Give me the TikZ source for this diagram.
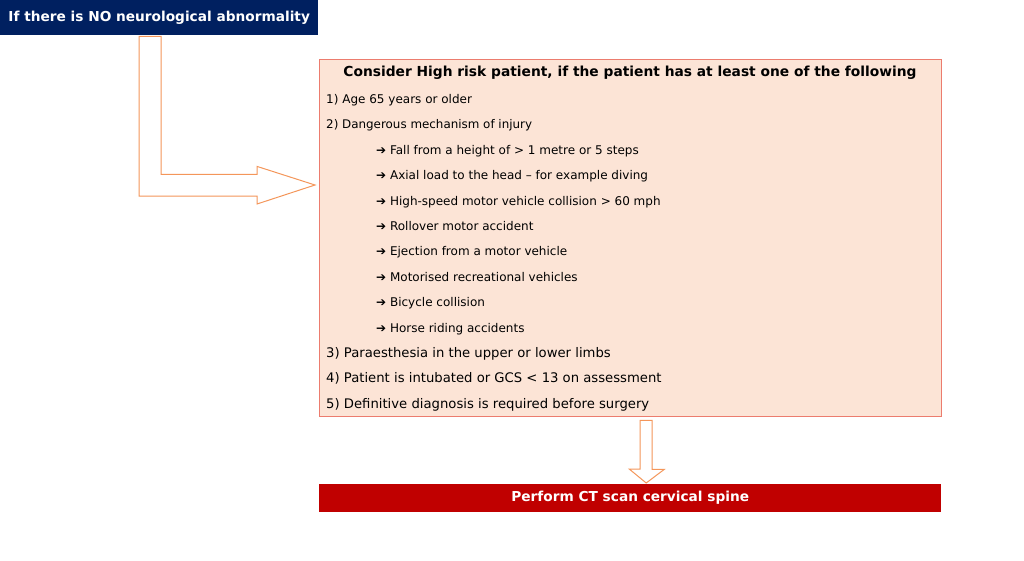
\documentclass[tikz,border=0pt]{standalone}
\usepackage{fontspec}
\setmainfont{DejaVu Sans}
\usetikzlibrary{positioning,calc}
\definecolor{condnavy}{RGB}{0,32,96}
\definecolor{scanred}{RGB}{192,0,0}
\definecolor{riskfill}{RGB}{252,228,214}
\definecolor{riskline}{RGB}{236,124,110}
\definecolor{arroworange}{RGB}{244,150,90}

\begin{document}
\begin{tikzpicture}[
  x=1pt, y=-1pt,
  banner/.style={anchor=north west, inner sep=0pt, text=white,
    font=\fontsize{13.7}{16}\selectfont\bfseries},
  riskbox/.style={draw=riskline, fill=riskfill, anchor=north west,
    minimum width=622pt, minimum height=357pt, inner sep=0pt},
  listitem/.style={anchor=base west, inner sep=0pt,
    font=\fontsize{13.2}{15}\selectfont},
  blockarrow/.style={draw=arroworange, fill=white, line width=1pt}
]
  \useasboundingbox (0,0) rectangle (1024,560);

  \node[banner, fill=condnavy, minimum width=318pt, minimum height=35pt]
    (cond) at (0,0) {If there is NO neurological abnormality};
  \node[riskbox] (risk) at (319,59) {};
  \node[banner, fill=scanred, minimum width=622pt, minimum height=28pt]
    (scan) at (319,484) {Perform CT scan cervical spine};

  % criteria
  \node[inner sep=0pt, font=\fontsize{13.8}{16}\selectfont\bfseries]
    (head) at ($(risk.north west)+(311,14)$)
    {Consider High risk patient, if the patient has at least one of the following};
  \node[listitem, font=\fontsize{12}{14}\selectfont] (age)
    at ($(risk.north west)+(7,44.5)$) {1) Age 65 years or older};
  \node[listitem, font=\fontsize{11.9}{14}\selectfont] (mech)
    at ($(risk.north west)+(7,69.9)$) {2) Dangerous mechanism of injury};
  \foreach \txt [count=\k] in {Fall from a height of > 1 metre or 5 steps,
      Axial load to the head – for example diving,
      High-speed motor vehicle collision > 60 mph,
      Rollover motor accident,
      Ejection from a motor vehicle,
      Motorised recreational vehicles,
      Bicycle collision,
      Horse riding accidents}
    \node[listitem, font=\fontsize{12}{14}\selectfont] (mech\k)
      at ($(risk.north west)+(57,69.9+25.4*\k)$) {➔ \txt};
  \node[listitem] (para) at ($(risk.north west)+(7,298.5)$)
    {3) Paraesthesia in the upper or lower limbs};
  \node[listitem] (gcs) at ($(risk.north west)+(7,323.9)$)
    {4) Patient is intubated or GCS < 13 on assessment};
  \node[listitem] (diag) at ($(risk.north west)+(7,349.3)$)
    {5) Definitive diagnosis is required before surgery};

  % block arrows
  \coordinate (bendtip) at ($(risk.north west)+(-4,126)$);
  \draw[blockarrow] ($(cond.south west)+(139,1)$) -- ++(22,0) -- ++(0,138)
    -- ++(96,0) -- ++(0,-8) -- (bendtip) -- ++(-58,19) -- ++(0,-8)
    -- ++(-118,0) -- cycle;
  \coordinate (downtip) at ($(scan.north)+(16,-1)$);
  \draw[blockarrow] ($(risk.south)+(10,4)$) -- ++(12,0) -- ++(0,49)
    -- ++(12,0) -- (downtip) -- ++(-17,-14) -- ++(11,0) -- cycle;
\end{tikzpicture}
\end{document}
